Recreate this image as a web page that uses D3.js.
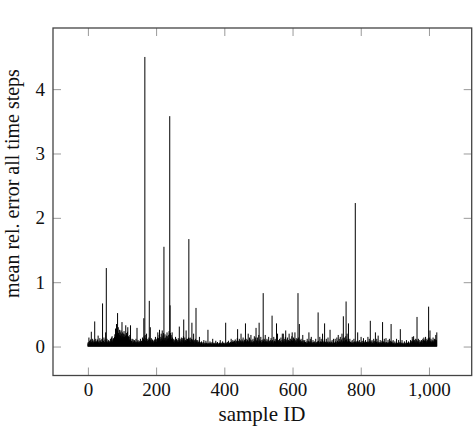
<!DOCTYPE html>
<html><head><meta charset="utf-8">
<script src="https://cdn.jsdelivr.net/npm/d3@7"></script>
<style>
html,body{margin:0;padding:0;background:#fff;}
svg{display:block;}
</style></head>
<body>
<svg id="chart" width="474" height="433"></svg>
<script>
// mean relative error per sample, in hundredths, samples 0..1023
const errorHundredths = [
 5,7,4,14,6,9,5,8,11,6,23,7,5,9,12,6,8,5,10,7,39,6,8,12,5,7,9,6,11,8,17,6,
 7,9,5,13,6,8,10,5,7,12,6,67,8,5,9,14,6,7,11,5,22,9,122,7,12,6,8,5,10,7,9,6,
 8,6,12,7,9,14,6,16,8,11,7,13,9,12,15,19,11,28,14,20,35,16,24,52,18,30,21,13,18,26,12,22,
 17,25,14,20,38,16,22,12,20,15,24,15,19,11,17,33,14,21,18,12,23,30,13,16,9,15,11,18,8,33,12,7,
 9,6,12,5,8,11,7,6,9,10,5,8,6,12,7,5,29,8,6,10,5,7,9,6,8,5,12,7,6,9,5,8,
 14,7,9,12,44,16,10,450,18,9,13,8,20,11,7,9,12,6,10,14,71,12,8,30,10,7,13,6,9,11,10,7,
 6,9,5,11,7,8,15,6,10,7,12,8,14,22,9,13,7,18,26,10,15,8,12,20,9,14,25,11,17,9,21,155,
 13,10,19,8,14,11,17,9,22,12,16,8,13,18,24,20,358,64,21,16,18,12,9,22,14,8,11,7,12,9,6,10,
 7,15,6,9,12,5,10,8,6,13,7,10,31,9,12,6,8,11,14,7,10,5,13,9,16,42,11,8,14,6,10,7,
 25,9,12,7,12,10,6,14,167,11,8,13,14,7,10,6,12,37,9,11,6,8,20,7,10,5,9,12,6,60,10,7,
 8,5,10,6,7,4,9,15,5,7,4,6,5,8,4,6,3,5,7,4,10,5,3,6,4,5,9,4,6,3,5,4,
 26,5,4,6,3,5,8,4,6,3,5,4,7,3,12,5,4,6,3,5,4,6,3,9,4,5,3,6,7,4,5,3,
 5,4,6,3,10,5,4,6,3,5,4,8,3,5,6,4,5,3,6,4,37,5,4,6,3,7,4,5,9,4,6,5,
 6,4,7,5,12,6,8,4,7,10,5,8,6,4,9,6,11,5,7,9,4,8,13,27,7,9,5,8,12,6,10,7,
 9,20,8,6,11,7,9,14,6,8,5,10,7,12,36,9,6,8,12,7,10,5,20,8,6,9,14,7,11,6,18,8,
 6,10,7,5,12,8,6,9,16,7,11,5,14,29,9,6,10,14,7,9,5,18,37,8,11,6,9,15,7,5,10,6,
 8,11,83,9,6,12,7,10,18,8,5,9,7,12,6,8,10,5,15,7,9,6,8,10,5,13,7,9,48,10,6,8,
 5,15,7,9,6,12,8,5,11,36,9,6,20,8,5,10,7,6,12,8,5,9,14,7,6,10,20,8,11,20,7,9,
 6,12,8,15,25,9,6,11,7,14,8,5,10,7,20,9,6,12,8,12,6,10,16,22,9,7,11,14,8,6,12,22,
 9,6,10,13,7,9,5,12,83,14,8,11,35,9,6,10,7,12,8,5,9,6,18,8,5,10,6,8,10,5,7,4,
 6,5,8,12,6,4,9,7,22,8,5,7,12,6,9,15,5,7,4,6,10,5,7,4,8,5,6,4,12,6,5,7,
 4,8,6,53,9,5,7,4,15,6,8,5,12,7,4,9,20,6,8,5,7,11,36,8,5,7,4,12,6,8,5,7,
 14,6,4,8,5,7,26,6,4,8,5,7,10,4,6,5,12,7,4,6,5,12,8,5,7,4,14,6,9,5,18,7,
 5,12,8,6,15,7,9,5,11,20,8,6,13,47,9,7,14,8,5,10,16,70,11,7,20,8,6,12,36,9,6,8,
 12,5,7,4,8,6,5,10,6,4,7,5,12,6,8,5,223,7,4,8,6,5,9,22,6,8,5,7,10,4,6,5,
 7,15,5,8,4,6,9,5,13,7,4,6,8,5,10,6,4,7,5,8,6,15,7,5,8,12,6,9,40,7,5,8,
 4,10,6,5,8,4,12,7,5,9,6,22,8,5,7,12,6,4,8,17,6,5,7,4,6,10,5,7,4,6,9,5,
 38,7,5,8,6,12,5,7,4,6,13,5,7,4,6,5,10,6,4,7,12,5,8,6,9,35,7,5,8,4,6,10,
 5,4,6,3,8,5,4,6,3,12,5,4,6,3,5,10,4,6,3,7,27,5,4,6,3,10,5,4,6,3,5,4,
 8,4,5,3,6,4,10,5,3,6,4,5,8,4,6,3,5,7,10,5,8,6,9,15,7,11,8,16,9,6,10,7,
 12,6,9,5,11,46,8,6,9,12,5,7,4,10,6,8,5,7,10,6,9,5,12,8,10,14,7,9,11,8,15,7,
 9,6,12,8,10,7,13,62,11,8,14,25,9,7,12,8,6,10,7,9,14,8,6,10,12,7,9,11,18,8,10,22
];
const sampleIds = errorHundredths.map((d, i) => i);
const errors = errorHundredths.map(d => d / 100);
const xTicks = [0, 200, 400, 600, 800, 1000];
const yTicks = [0, 1, 2, 3, 4];
const xLabel = "sample ID";
const yLabel = "mean rel. error all time steps";

const svg = d3.select("#chart");
const L = 53, R = 471.7, T = 28, B = 375.5;
const xMin = 0, xMax = 1023, xPad = (xMax - xMin) * 0.1;
const yMax = 4.5, yPad = yMax * 0.1;
const x = d3.scaleLinear().domain([xMin - xPad, xMax + xPad]).range([L, R]);
const y = d3.scaleLinear().domain([-yPad, yMax + yPad]).range([B, T]);

const font = "Liberation Serif, Times New Roman, serif";
const tickLen = 8;

// spikes
svg.append("g")
  .selectAll("line")
  .data(sampleIds)
  .join("line")
  .attr("x1", i => x(i)).attr("x2", i => x(i))
  .attr("y1", y(0)).attr("y2", i => y(errors[i]))
  .attr("stroke", "#000")
  .attr("stroke-width", 1);

function styleAxis(g, showText) {
  g.attr("font-family", font).attr("font-size", 19);
  g.select(".domain").remove();
  g.selectAll(".tick line").attr("stroke", "#9a9a9a").attr("stroke-width", 1);
  g.selectAll(".tick text")
    .style("font-family", font)
    .style("font-size", "19px")
    .attr("fill", "#111");
  if (!showText) g.selectAll(".tick text").remove();
}

svg.append("g").attr("transform", `translate(0,${B})`)
  .call(d3.axisBottom(x).tickValues(xTicks).tickFormat(d3.format(",")).tickSizeInner(-tickLen).tickSizeOuter(0).tickPadding(7))
  .call(g => styleAxis(g, true));
svg.append("g").attr("transform", `translate(0,${T})`)
  .call(d3.axisTop(x).tickValues(xTicks).tickFormat("").tickSizeInner(-tickLen).tickSizeOuter(0))
  .call(g => styleAxis(g, false));
svg.append("g").attr("transform", `translate(${L},0)`)
  .call(d3.axisLeft(y).tickValues(yTicks).tickFormat(d3.format("d")).tickSizeInner(-tickLen).tickSizeOuter(0).tickPadding(8))
  .call(g => styleAxis(g, true));
svg.append("g").attr("transform", `translate(${R},0)`)
  .call(d3.axisRight(y).tickValues(yTicks).tickFormat("").tickSizeInner(-tickLen).tickSizeOuter(0))
  .call(g => styleAxis(g, false));

// frame
svg.append("rect")
  .attr("x", L).attr("y", T).attr("width", R - L).attr("height", B - T)
  .attr("fill", "none").attr("stroke", "#444").attr("stroke-width", 1.3);

// axis labels
svg.append("text")
  .attr("x", 262).attr("y", 421)
  .attr("text-anchor", "middle")
  .style("font-family", font).style("font-size", "21px").attr("fill", "#111")
  .text(xLabel);
svg.append("text")
  .attr("transform", `translate(19,183.5) rotate(-90)`)
  .attr("text-anchor", "middle")
  .style("font-family", font).style("font-size", "20px").attr("fill", "#111")
  .text(yLabel);
</script>
</body></html>
